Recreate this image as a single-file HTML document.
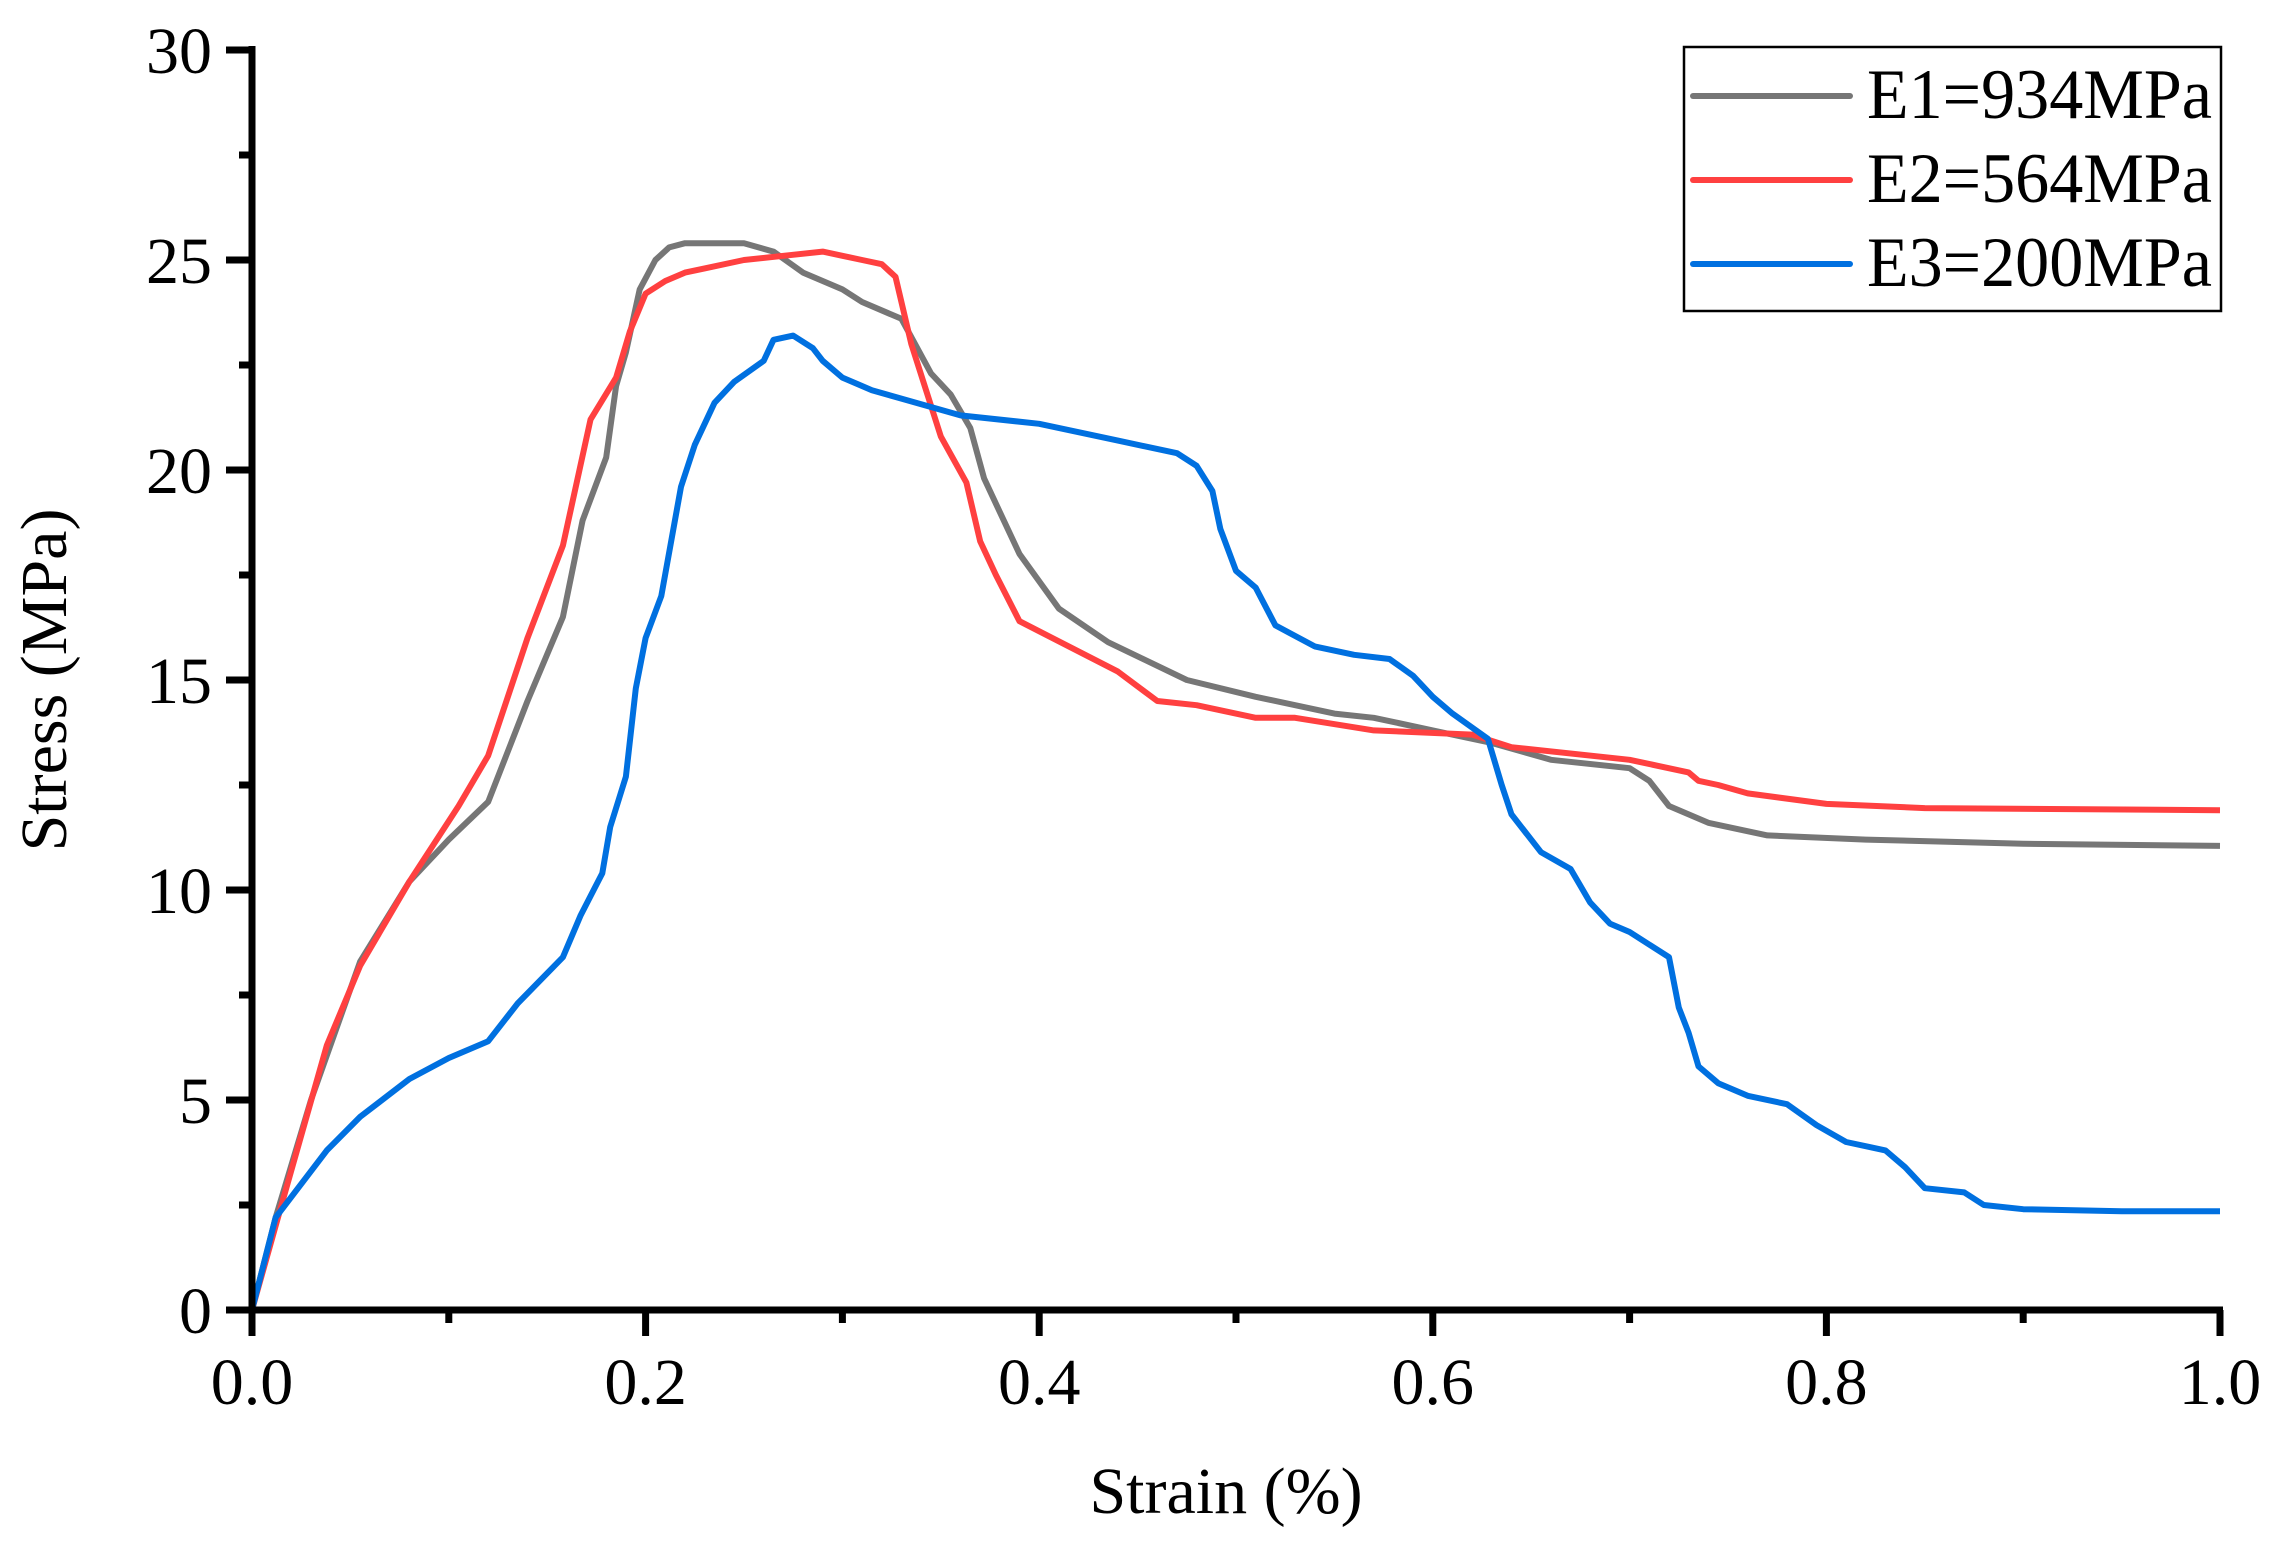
<!DOCTYPE html>
<html><head><meta charset="utf-8"><style>
html,body{margin:0;padding:0;background:#fff;}
svg{display:block;font-family:"Liberation Serif",serif;}
</style></head><body>
<svg id="s" width="2287" height="1544" viewBox="0 0 2287 1544" xmlns="http://www.w3.org/2000/svg">
<g id="plot"></g>
<g id="axes" stroke="#000" stroke-width="7" fill="none"></g>
<g id="lab" font-size="66" fill="#000"></g>
<rect x="1684" y="47" width="537" height="264" fill="#fff" stroke="#000" stroke-width="2.5"/>
<g stroke-width="6" stroke-linecap="round">
<line x1="1693" y1="96" x2="1850" y2="96" stroke="#767676"/>
<line x1="1693" y1="180" x2="1850" y2="180" stroke="#ff4040"/>
<line x1="1693" y1="264" x2="1850" y2="264" stroke="#0070e0"/>
</g>
<g font-size="71" fill="#000">
<text x="1867" y="118" textLength="345" lengthAdjust="spacingAndGlyphs">E1=934MPa</text>
<text x="1867" y="202" textLength="345" lengthAdjust="spacingAndGlyphs">E2=564MPa</text>
<text x="1867" y="286" textLength="345" lengthAdjust="spacingAndGlyphs">E3=200MPa</text>
</g>
<text x="1226" y="1513" font-size="66" text-anchor="middle">Strain (%)</text>
<text transform="translate(66,680) rotate(-90)" font-size="66" text-anchor="middle">Stress (MPa)</text>
</svg>
<script>
var X=function(s){return 252+1968*s},Y=function(v){return 1310-42*v};
var E1=[[0,0],[0.012,2.2],[0.03,5],[0.055,8.3],[0.08,10.2],[0.1,11.2],[0.12,12.1],[0.14,14.5],[0.158,16.5],[0.168,18.8],[0.18,20.3],[0.185,22],[0.19,22.8],[0.197,24.3],[0.205,25],[0.212,25.3],[0.22,25.4],[0.25,25.4],[0.265,25.2],[0.28,24.7],[0.3,24.3],[0.31,24],[0.33,23.6],[0.345,22.3],[0.355,21.8],[0.365,21],[0.372,19.8],[0.38,19],[0.39,18],[0.41,16.7],[0.435,15.9],[0.475,15],[0.51,14.6],[0.55,14.2],[0.57,14.1],[0.6,13.8],[0.63,13.5],[0.66,13.1],[0.7,12.9],[0.71,12.6],[0.72,12],[0.74,11.6],[0.77,11.3],[0.82,11.2],[0.9,11.1],[1,11.05]];
var E2=[[0,0],[0.015,2.5],[0.038,6.3],[0.055,8.2],[0.08,10.2],[0.105,12],[0.12,13.2],[0.14,16],[0.158,18.2],[0.165,19.7],[0.172,21.2],[0.185,22.2],[0.192,23.3],[0.2,24.2],[0.21,24.5],[0.22,24.7],[0.23,24.8],[0.25,25],[0.27,25.1],[0.29,25.2],[0.3,25.1],[0.31,25],[0.32,24.9],[0.327,24.6],[0.335,23],[0.35,20.8],[0.363,19.7],[0.37,18.3],[0.378,17.5],[0.39,16.4],[0.44,15.2],[0.46,14.5],[0.48,14.4],[0.51,14.1],[0.53,14.1],[0.57,13.8],[0.62,13.7],[0.64,13.4],[0.7,13.1],[0.73,12.8],[0.735,12.6],[0.745,12.5],[0.76,12.3],[0.8,12.05],[0.85,11.95],[1,11.9]];
var E3=[[0,0],[0.012,2.2],[0.038,3.8],[0.055,4.6],[0.08,5.5],[0.1,6],[0.12,6.4],[0.135,7.3],[0.158,8.4],[0.167,9.4],[0.178,10.4],[0.182,11.5],[0.19,12.7],[0.195,14.8],[0.2,16],[0.208,17],[0.218,19.6],[0.225,20.6],[0.235,21.6],[0.245,22.1],[0.26,22.6],[0.265,23.1],[0.275,23.2],[0.285,22.9],[0.29,22.6],[0.3,22.2],[0.315,21.9],[0.33,21.7],[0.36,21.3],[0.4,21.1],[0.44,20.7],[0.47,20.4],[0.48,20.1],[0.488,19.5],[0.492,18.6],[0.5,17.6],[0.51,17.2],[0.52,16.3],[0.54,15.8],[0.56,15.6],[0.578,15.5],[0.59,15.1],[0.6,14.6],[0.61,14.2],[0.628,13.6],[0.635,12.5],[0.64,11.8],[0.655,10.9],[0.67,10.5],[0.68,9.7],[0.69,9.2],[0.7,9.0],[0.71,8.7],[0.72,8.4],[0.725,7.2],[0.73,6.6],[0.735,5.8],[0.745,5.4],[0.76,5.1],[0.78,4.9],[0.795,4.4],[0.81,4.0],[0.83,3.8],[0.84,3.4],[0.85,2.9],[0.87,2.8],[0.88,2.5],[0.9,2.4],[0.95,2.35],[1,2.35]];
var NS="http://www.w3.org/2000/svg";
function el(p,t,a,txt){var e=document.createElementNS(NS,t);for(var k in a)e.setAttribute(k,a[k]);if(txt!=null)e.textContent=txt;p.appendChild(e);return e;}
var plot=document.getElementById('plot');
[[E1,'#767676'],[E2,'#ff4040'],[E3,'#0070e0']].forEach(function(d){
 el(plot,'polyline',{points:d[0].map(function(p){return X(p[0]).toFixed(1)+','+Y(p[1]).toFixed(1)}).join(' '),fill:'none',stroke:d[1],'stroke-width':6,'stroke-linejoin':'round'});
});
var ax=document.getElementById('axes'),lab=document.getElementById('lab');
el(ax,'line',{x1:252,y1:46,x2:252,y2:1313});
el(ax,'line',{x1:249,y1:1310,x2:2223,y2:1310});
for(var v=0;v<=30;v+=2.5){var y=Y(v);var maj=(v%5==0);el(ax,'line',{x1:maj?226:239,y1:y,x2:252,y2:y});
 if(maj)el(lab,'text',{x:212,y:y+23,'text-anchor':'end'},String(v));}
for(var i=0;i<=10;i++){var x=X(i/10);var maj=(i%2==0);el(ax,'line',{x1:x,y1:1310,x2:x,y2:maj?1336:1323});
 if(maj)el(lab,'text',{x:x,y:1404,'text-anchor':'middle'},(i/10).toFixed(1));}
</script>
</body></html>
